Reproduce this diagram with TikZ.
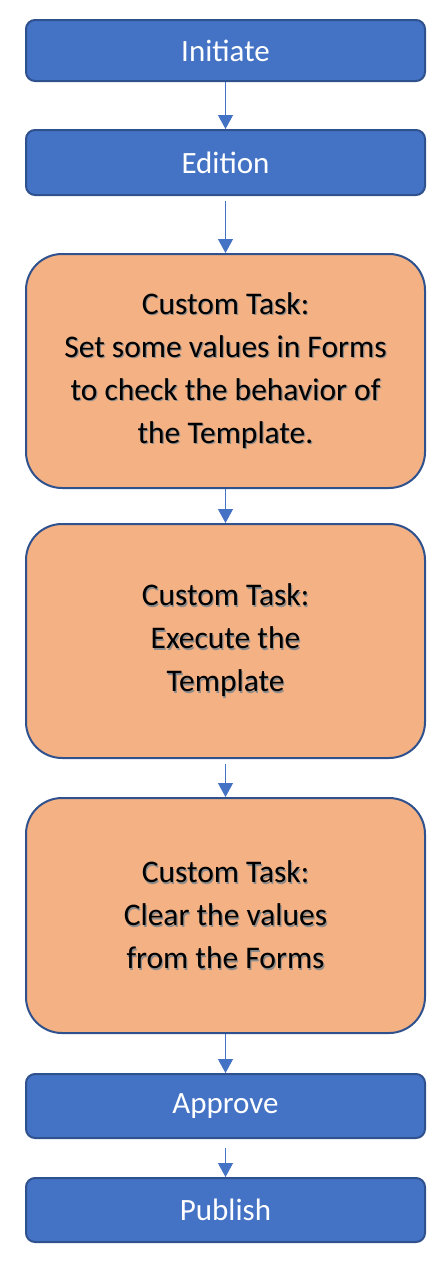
\documentclass[tikz,border=0pt]{standalone}
\usepackage{fontspec}
\setmainfont{Carlito}
\usetikzlibrary{arrows.meta}
\definecolor{bluefill}{HTML}{4472C4}
\definecolor{blueedge}{HTML}{2F528F}
\definecolor{orangefill}{HTML}{F4B183}
\newcommand\shd[1]{\makebox[0pt][l]{\hspace{1.2pt}\raisebox{-1.6pt}{\textcolor{black!45}{#1}}}#1}
\tikzset{
  bluebox/.style={draw=blueedge, line width=2pt, fill=bluefill, rounded corners=9pt,
    minimum width=399pt, text=white, inner sep=0pt,
    font=\fontsize{31}{36}\selectfont},
  orangebox/.style={draw=blueedge, line width=2pt, fill=orangefill, rounded corners=36pt,
    minimum width=399pt, minimum height=234pt, text=black, align=center, inner sep=0pt,
    font=\fontsize{31.5}{43}\selectfont},
  arr/.style={draw=bluefill, line width=1.1pt, -{Triangle[length=14pt,width=15pt]}}
}
\begin{document}
\begin{tikzpicture}[x=1pt,y=-1pt]
\useasboundingbox (0,0) rectangle (446,1264);
\node[bluebox, minimum height=61pt] (init) at (225.5,50.5) {Initiate};
\node[bluebox, minimum height=65pt] (edit) at (225.5,162.5) {Edition};
\node[orangebox] (t1) at (225.5,371) {\shd{Custom Task:}\\\shd{Set some values in Forms}\\\shd{to check the behavior of}\\\shd{the Template.}};
\node[orangebox] (t2) at (225.5,641) {\shd{Custom Task:}\\\shd{Execute the}\\\shd{Template}};
\node[orangebox, minimum height=235pt] (t3) at (225.5,915.5) {\shd{Custom Task:}\\\shd{Clear the values}\\\shd{from the Forms}};
\node[bluebox, minimum height=64pt] (appr) at (225.5,1106) {Approve};
\node[bluebox, minimum height=64pt] (pub) at (225.5,1210) {Publish};
\draw[arr] (init.south) -- (edit.north);
\draw[arr] ([yshift=-5pt]edit.south) -- (t1.north);
\draw[arr] (t1.south) -- (t2.north);
\draw[arr] ([yshift=-5pt]t2.south) -- (t3.north);
\draw[arr] (t3.south) -- (appr.north);
\draw[arr] ([yshift=-9pt]appr.south) -- (pub.north);
\end{tikzpicture}
\end{document}
